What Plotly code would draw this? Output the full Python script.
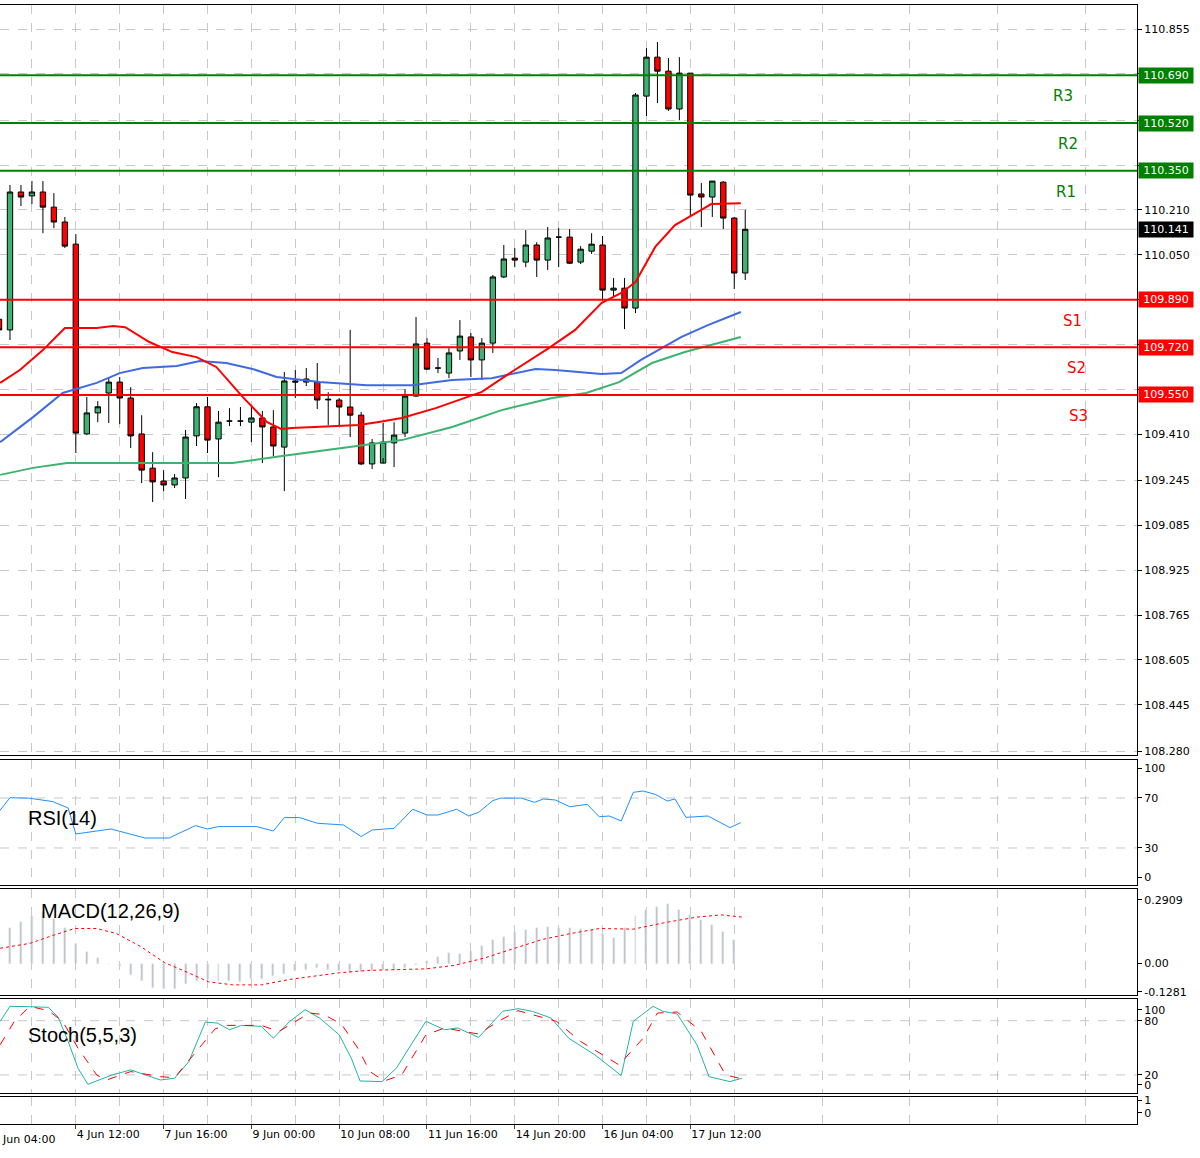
import plotly.graph_objects as go

# H4 candles, index 0..68
opens = [109.82, 109.782, 110.274, 110.260, 110.274, 110.220, 110.167, 110.088, 109.411, 109.486,
         109.557, 109.596, 109.539, 109.411, 109.289, 109.243, 109.229, 109.254, 109.404, 109.508,
         109.393, 109.457, 109.457, 109.453, 109.468, 109.436, 109.364, 109.600, 109.607, 109.596,
         109.535, 109.532, 109.507, 109.478, 109.304, 109.307, 109.379, 109.414, 109.546, 109.735,
         109.646, 109.628, 109.707, 109.757, 109.675, 109.735, 109.971, 110.038, 110.024, 110.085,
         110.031, 110.113, 110.113, 110.024, 110.063, 110.085, 109.924, 109.931, 109.860, 110.616,
         110.755, 110.705, 110.570, 110.698, 110.267, 110.256, 110.309, 110.181, 109.985]
highs = [109.84, 110.299, 110.299, 110.313, 110.313, 110.270, 110.185, 110.124, 109.543, 109.528,
         109.614, 109.614, 109.578, 109.478, 109.346, 109.282, 109.268, 109.425, 109.521, 109.543,
         109.493, 109.503, 109.507, 109.507, 109.493, 109.496, 109.632, 109.639, 109.646, 109.664,
         109.560, 109.539, 109.782, 109.489, 109.393, 109.450, 109.453, 109.571, 109.828, 109.753,
         109.682, 109.717, 109.817, 109.771, 109.753, 109.978, 110.085, 110.074, 110.138, 110.095,
         110.149, 110.145, 110.142, 110.081, 110.127, 110.117, 109.967, 109.967, 110.627, 110.787,
         110.809, 110.752, 110.755, 110.698, 110.306, 110.313, 110.313, 110.185, 110.210]
lows = [109.76, 109.746, 110.224, 110.231, 110.127, 110.145, 110.074, 109.343, 109.407, 109.453,
        109.450, 109.446, 109.361, 109.236, 109.168, 109.207, 109.218, 109.179, 109.368, 109.343,
        109.257, 109.439, 109.439, 109.382, 109.307, 109.332, 109.207, 109.539, 109.582, 109.500,
        109.443, 109.439, 109.400, 109.300, 109.286, 109.325, 109.293, 109.400, 109.543, 109.639,
        109.628, 109.610, 109.675, 109.614, 109.603, 109.700, 109.967, 110.006, 110.006, 109.971,
        109.996, 110.006, 110.017, 110.017, 110.053, 109.885, 109.903, 109.785, 109.842, 110.545,
        110.591, 110.563, 110.530, 110.185, 110.149, 110.185, 110.142, 109.928, 109.960]
closes = [109.782, 110.274, 110.256, 110.274, 110.220, 110.167, 110.081, 109.414, 109.486, 109.508,
          109.596, 109.539, 109.404, 109.282, 109.240, 109.229, 109.254, 109.400, 109.508, 109.389,
          109.453, 109.457, 109.457, 109.468, 109.436, 109.368, 109.600, 109.596, 109.596, 109.532,
          109.533, 109.507, 109.478, 109.304, 109.379, 109.382, 109.407, 109.546, 109.732, 109.642,
          109.646, 109.700, 109.760, 109.675, 109.735, 109.971, 110.035, 110.031, 110.085, 110.031,
          110.110, 110.113, 110.020, 110.070, 110.088, 109.924, 109.931, 109.860, 110.620, 110.755,
          110.705, 110.570, 110.698, 110.263, 110.256, 110.313, 110.181, 109.985, 110.141]

ma_red_x = [0.1, 1.9, 4, 6, 8.9, 10.4, 11.5, 13.7, 15.8, 18, 19.8, 22.2, 24.4, 25.7, 26.7, 30.7, 32.8,
            34.6, 36.7, 39.8, 42.8, 44, 46.7, 50.1, 52.5, 54.9, 56.7, 58, 59.8, 61.6, 64, 64.9, 67.6]
ma_red_y = [109.593, 109.639, 109.710, 109.789, 109.789, 109.796, 109.792, 109.739, 109.703, 109.685,
            109.650, 109.543, 109.454, 109.429, 109.432, 109.439, 109.443, 109.454, 109.468, 109.503,
            109.543, 109.561, 109.632, 109.717, 109.782, 109.878, 109.914, 109.953, 110.078, 110.156,
            110.210, 110.231, 110.234]
ma_blue_x = [0.1, 3.1, 5.8, 8.9, 11, 13.1, 16.2, 18.3, 20.7, 23.1, 25.3, 29.2, 33.5, 37.6, 41.3, 44.9,
             48.9, 50.7, 54.9, 56.7, 58.5, 60.4, 62.2, 64.6, 67.6]
ma_blue_y = [109.382, 109.471, 109.557, 109.593, 109.628, 109.646, 109.653, 109.671, 109.664, 109.643,
             109.614, 109.596, 109.585, 109.585, 109.603, 109.610, 109.643, 109.639, 109.625, 109.628,
             109.675, 109.717, 109.757, 109.799, 109.846]
ma_green_x = [0.1, 3.1, 6.2, 21.3, 25.8, 30.4, 34.6, 36.7, 41.3, 45.8, 50.4, 53.5, 56.5, 59.5, 62.5, 67.6]
ma_green_y = [109.265, 109.290, 109.307, 109.307, 109.332, 109.357, 109.379, 109.389, 109.436, 109.496,
              109.539, 109.557, 109.596, 109.664, 109.703, 109.757]

rsi_x = [0, 1, 2.7, 4.9, 6.3, 7, 10.2, 13.3, 15.5, 17.9, 19, 20, 23.5, 25, 26, 27.4, 29, 31.4, 33, 34,
         36, 37.7, 39, 40, 41.7, 42.8, 43.7, 45, 45.7, 47.6, 48.8, 49.6, 50.7, 52, 53.6, 54.7, 55.6,
         56.7, 57.8, 58.7, 59.8, 60.9, 61.6, 62.6, 64.6, 66.6, 67.6]
rsi_y = [59.1, 70.2, 69.9, 67.1, 62, 41.2, 45.2, 38, 38, 47.9, 45.2, 47.1, 47.1, 43.6, 54.3, 54.3, 49.8,
         48.4, 39.1, 44.4, 45.7, 61, 56.4, 56.4, 61, 55.6, 58.5, 67.9, 69.9, 69.9, 66.5, 69.2, 68.4, 63,
         64.9, 55, 55.6, 51.6, 74.5, 75.6, 72.9, 67.6, 69.2, 54.5, 55.6, 46.3, 50.3]

macd_hist = [0.122, 0.160, 0.189, 0.219, 0.234, 0.205, 0.160, 0.088, 0.052, 0.025, 0.0, -0.012, -0.052,
             -0.079, -0.109, -0.116, -0.116, -0.094, -0.079, -0.076, -0.079, -0.079, -0.082, -0.072,
             -0.072, -0.057, -0.049, -0.034, -0.027, -0.022, -0.027, -0.034, -0.042, -0.037, -0.034,
             -0.031, -0.027, -0.019, -0.008, 0.010, 0.028, 0.048, 0.043, 0.058, 0.082, 0.107, 0.122,
             0.145, 0.152, 0.163, 0.167, 0.163, 0.160, 0.157, 0.152, 0.133, 0.115, 0.160, 0.219, 0.246,
             0.256, 0.272, 0.246, 0.222, 0.197, 0.175, 0.145, 0.107]
macd_sig_x = [0.1, 2.8, 5, 6.9, 8.9, 10.7, 12.9, 15.1, 16.9, 19.1, 21.3, 23.9, 26.5, 31, 33.6, 38.9,
              41.5, 44.2, 46.8, 49.5, 52.1, 54.7, 57.8, 60.9, 63.6, 65.8, 67.7]
macd_sig_y = [0.070, 0.092, 0.130, 0.160, 0.160, 0.137, 0.078, 0.004, -0.034, -0.083, -0.097, -0.097,
              -0.072, -0.042, -0.031, -0.024, -0.008, 0.025, 0.067, 0.110, 0.137, 0.160, 0.157, 0.189,
              0.212, 0.222, 0.212]

stoch_x = [0.1, 1, 2.8, 4.5, 5.4, 6.3, 7.2, 8.1, 10.3, 12, 14.7, 16, 17.3, 18.8, 19.9, 21, 22.1, 23.9,
           25, 26.5, 27.9, 29.2, 31, 32.1, 32.9, 34.9, 36.2, 38.9, 40.6, 41.8, 43.7, 45.9, 47.3, 48.6,
           50.3, 51.9, 54.3, 56.7, 57.8, 59.6, 60.5, 61.8, 63.6, 64.7, 66.6, 67.7]
stoch_k = [79.3, 95.9, 95.5, 94.8, 83.7, 57, 27.4, 9.6, 20, 25.6, 14.4, 16.3, 34.8, 78.5, 77.4, 70, 74.8,
           73.7, 60.7, 79.3, 92.2, 83, 64.4, 38.5, 13.3, 12.6, 27.4, 79.3, 70, 71.9, 61.5, 90.4, 93.3,
           90.4, 83, 60.7, 42.2, 19.3, 79.3, 95.9, 90.4, 87.4, 53.3, 18.1, 12.6, 16.3]
stoch_sig_x = [0.1, 1.4, 2.8, 4.5, 5.8, 7.2, 8.9, 9.8, 12, 14.7, 16, 18.2, 19.7, 20.8, 23.9, 25.5, 28.3,
               29.6, 31.2, 32.7, 33.8, 35.1, 36.7, 38.9, 40.6, 43.7, 45.5, 47.3, 50.8, 53, 56.5, 58.7, 60,
               61.8, 64, 66.2, 67.7]
stoch_d = [53.3, 79.3, 95.9, 91.1, 79.3, 49.6, 20, 14.4, 23.7, 18.1, 17, 49.6, 71.1, 74.8, 74.8, 68.1,
           88.5, 86.7, 76.3, 49.6, 23.7, 13.3, 20, 64.4, 71.9, 65.2, 79.3, 91.1, 79.3, 57, 31.1, 60.7,
           88.5, 89.6, 68.1, 20, 15.6]

levels = [110.69, 110.52, 110.35, 109.89, 109.72, 109.55]
level_names = ["R3", "R2", "R1", "S1", "S2", "S3"]
last_price = 110.141

price_ticks = [110.855, 110.695, 110.530, 110.370, 110.210, 110.050, 109.890, 109.730, 109.570, 109.410,
               109.245, 109.085, 108.925, 108.765, 108.605, 108.445, 108.280]
hidden_ticks = [110.695, 110.530, 110.370, 109.890, 109.730, 109.570]
rsi_levels = [70, 30]
stoch_levels = [80, 20]
date_ticks = [7, 15, 23, 31, 39, 47, 55, 63]
date_labels = ["4 Jun 12:00", "7 Jun 16:00", "9 Jun 00:00", "10 Jun 08:00", "11 Jun 16:00",
               "14 Jun 20:00", "16 Jun 04:00", "17 Jun 12:00"]

idx = list(range(len(opens)))
GREEN = "#008000"
RED = "#FF0000"
GRID = "#C8C8C8"
FONT = "DejaVu Sans"

fig = go.Figure()
fig.add_trace(go.Candlestick(
    x=idx, open=opens, high=highs, low=lows, close=closes,
    increasing=dict(fillcolor="#3CB371", line=dict(color="black", width=1)),
    decreasing=dict(fillcolor="#FF0000", line=dict(color="black", width=1)),
    whiskerwidth=0, xaxis="x", yaxis="y"))
fig.add_trace(go.Scatter(x=ma_green_x, y=ma_green_y, mode="lines", line=dict(color="#3CB371", width=2)))
fig.add_trace(go.Scatter(x=ma_blue_x, y=ma_blue_y, mode="lines", line=dict(color="#4169E1", width=2)))
fig.add_trace(go.Scatter(x=ma_red_x, y=ma_red_y, mode="lines", line=dict(color=RED, width=2)))

fig.add_trace(go.Scatter(x=rsi_x, y=rsi_y, mode="lines", line=dict(color="#1E90FF", width=1),
                         xaxis="x2", yaxis="y2"))
fig.add_trace(go.Bar(x=idx, y=macd_hist, marker_color="#C0C0C0", width=0.18, xaxis="x3", yaxis="y3"))
fig.add_trace(go.Scatter(x=macd_sig_x, y=macd_sig_y, mode="lines", line=dict(color=RED, width=1, dash="dot"),
                         xaxis="x3", yaxis="y3"))
fig.add_trace(go.Scatter(x=stoch_x, y=stoch_k, mode="lines", line=dict(color="#20B2AA", width=1),
                         xaxis="x4", yaxis="y4"))
fig.add_trace(go.Scatter(x=stoch_sig_x, y=stoch_d, mode="lines", line=dict(color=RED, width=1, dash="dash"),
                         xaxis="x4", yaxis="y4"))
fig.add_trace(go.Scatter(x=[0], y=[-5], mode="markers", marker=dict(opacity=0), xaxis="x5", yaxis="y5"))

shapes = []
for lv, nm in zip(levels, level_names):
    col = GREEN if nm.startswith("R") else RED
    shapes.append(dict(type="line", xref="paper", x0=0, x1=1, yref="y", y0=lv, y1=lv,
                       line=dict(color=col, width=2)))
shapes.append(dict(type="line", xref="paper", x0=0, x1=1, yref="y", y0=last_price, y1=last_price,
                   line=dict(color="#C8C8C8", width=1), layer="below"))
for lv in rsi_levels:
    shapes.append(dict(type="line", xref="paper", x0=0, x1=1, yref="y2", y0=lv, y1=lv,
                       line=dict(color=GRID, width=1, dash="dash"), layer="below"))
for lv in stoch_levels:
    shapes.append(dict(type="line", xref="paper", x0=0, x1=1, yref="y4", y0=lv, y1=lv,
                       line=dict(color=GRID, width=1, dash="dash"), layer="below"))

annotations = []
label_x = [97, 97.4, 97.2, 97.8, 98.2, 98.4]
for lv, nm, lx in zip(levels, level_names, label_x):
    col = GREEN if nm.startswith("R") else RED
    annotations.append(dict(x=lx, y=lv, xref="x", yref="y", text=nm, showarrow=False,
                            yshift=-21, font=dict(family=FONT, size=15, color=col)))
    annotations.append(dict(x=1, y=lv, xref="paper", yref="y", text=f"{lv:.3f}", showarrow=False,
                            xanchor="left", xshift=1, bgcolor=col, width=52, height=13,
                            font=dict(family=FONT, size=11, color="white")))
annotations.append(dict(x=1, y=last_price, xref="paper", yref="y", text=f"{last_price:.3f}", showarrow=False,
                        xanchor="left", xshift=1, bgcolor="black", width=52, height=13,
                        font=dict(family=FONT, size=11, color="white")))
for txt, xp, yv, yr in [("RSI(14)", 2.5, 53.6, "y2"), ("MACD(12,26,9)", 3.6, 0.242, "y3"),
                        ("Stoch(5,5,3)", 2.5, 64.4, "y4")]:
    annotations.append(dict(x=xp, y=yv, xref="x", yref=yr, text=txt, showarrow=False, xanchor="left",
                            yanchor="middle", font=dict(family="Liberation Sans", size=20, color="black")))
annotations.append(dict(x=0, y=-0.006, xref="paper", yref="paper", text="Jun 04:00", showarrow=False,
                        xanchor="left", yanchor="top", font=dict(family=FONT, size=11, color="black")))

xcommon = dict(range=[0.09, 103.7], showline=True, mirror=True, linecolor="black", linewidth=1,
               tickvals=date_ticks, showgrid=True, gridcolor=GRID, griddash="dash",
               minor=dict(tickvals=[3 + 8 * k for k in range(13)], showgrid=True, gridcolor=GRID, griddash="dash"),
               zeroline=False, rangeslider=dict(visible=False), showticklabels=False)
ycommon = dict(side="right", showline=True, mirror=True, linecolor="black", linewidth=1, zeroline=False,
               ticks="outside", ticklen=4, tickcolor="black", tickfont=dict(family=FONT, size=11, color="black"),
               gridcolor=GRID, griddash="dash", fixedrange=True)

fig.update_layout(
    width=1200, height=1158, margin=dict(l=0, r=63, t=5, b=34),
    plot_bgcolor="white", paper_bgcolor="white", showlegend=False, bargap=0,
    shapes=shapes, annotations=annotations,
    xaxis=dict(xcommon, anchor="y"),
    xaxis2=dict(xcommon, anchor="y2", matches="x"),
    xaxis3=dict(xcommon, anchor="y3", matches="x"),
    xaxis4=dict(xcommon, anchor="y4", matches="x"),
    xaxis5=dict(xcommon, anchor="y5", matches="x", showticklabels=True, ticktext=date_labels,
                ticklabelposition="outside right", ticks="outside", ticklen=4,
                tickfont=dict(family=FONT, size=11, color="black")),
    yaxis=dict(ycommon, domain=[0.3298, 1.0], range=[108.266, 110.941], tickvals=price_ticks,
               ticktext=["" if v in hidden_ticks else f"{v:.3f}" for v in price_ticks], showgrid=True),
    yaxis2=dict(ycommon, domain=[0.2136, 0.3253], range=[0.4, 100.4], tickvals=[93.6, 70, 30, 6.4],
                ticktext=["100", "70", "30", "0"], showgrid=False),
    yaxis3=dict(ycommon, domain=[0.1153, 0.2100], range=[-0.143, 0.340], tickvals=[0.2909, 0.0, -0.1281],
                ticktext=["0.2909", "0.00", "-0.1281"], showgrid=False),
    yaxis4=dict(ycommon, domain=[0.0277, 0.1117], range=[0, 104], tickvals=[92, 80, 20, 9],
                ticktext=["100", "80", "20", "0"], showgrid=False),
    yaxis5=dict(ycommon, domain=[0, 0.0241], range=[-0.85, 1.23], tickvals=[1, 0], showgrid=False),
)

fig.write_html("out.html", config={"displayModeBar": False},
               post_script="document.body.style.margin='0';")
